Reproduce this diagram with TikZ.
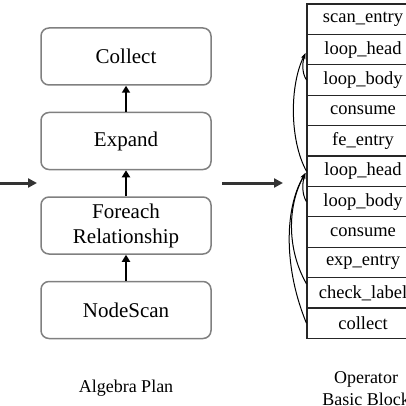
\documentclass[tikz,border=0pt]{standalone}
\usepackage{fontspec}
\setmainfont{Liberation Serif}
\usetikzlibrary{arrows.meta,calc}
\tikzset{
  planbox/.style={draw=black!50, line width=1.5pt, rounded corners=8pt, minimum width=170pt, minimum height=57pt, align=center, inner sep=0pt, font=\fontsize{21}{25}\selectfont},
  uparrow/.style={line width=2.5pt, -{Triangle[length=7pt,width=8pt]}},
  bigarrow/.style={draw=black!80, line width=3pt, -{Triangle[length=9pt,width=9pt]}},
  cell/.style={draw=black!85, line width=1.1pt, minimum width=112pt, minimum height=30.4pt, inner sep=0pt, font=\fontsize{18.5}{20}\selectfont},
  backedge/.style={line width=1pt, -{Stealth[length=6pt,width=4pt]}},
  caption/.style={font=\fontsize{18}{22}\selectfont, align=center}
}
\begin{document}
\begin{tikzpicture}[x=1pt,y=-1pt]
\path[use as bounding box] (0,0) rectangle (406,406);
\begin{scope}
\clip (0,0) rectangle (406,406);
% Algebra plan
\node[planbox] (collect) at (126,56.5) {Collect};
\node[planbox] (expand) at (126,141) {Expand};
\node[planbox] (foreach) at (126,225.5) {Foreach\\Relationship};
\node[planbox] (nodescan) at (126,310) {NodeScan};
\draw[uparrow] (nodescan.north) -- (foreach.south);
\draw[uparrow] (foreach.north) -- (expand.south);
\draw[uparrow] (expand.north) -- (collect.south);
\node[caption] (algcap) at (126,388) {Algebra Plan};
% arrows
\coordinate (lin) at (-2,183);
\coordinate (lout) at (37,183);
\draw[bigarrow] (lin) -- (lout);
\coordinate (min) at (222,183);
\coordinate (mout) at (283,183);
\draw[bigarrow] (min) -- (mout);
% basic blocks
\foreach \i/\t in {1/scan\_entry,2/loop\_head,3/loop\_body,4/consume,5/fe\_entry,6/loop\_head,7/loop\_body,8/consume,9/exp\_entry,10/check\_label,11/collect}{
  \node[cell] (c\i) at (363,{4+30.4*(\i-0.5)}) {\t};
}
\node[caption] (opcap) at (366,389) {Operator\\Basic Block};
% back edges
\coordinate (t1) at ($(c2.west)+(-1,3.5)$);
\coordinate (t2) at ($(c6.west)+(-1,1.8)$);
\draw[backedge] (c3.west) .. controls +(-5,-8) and +(-3,9) .. (t1);
\draw[backedge] (c6.west) .. controls +(-17,-31) and +(-16,32) .. (t1);
\draw[backedge] (c7.west) .. controls +(-5,-8) and +(-3,9) .. (t2);
\draw[backedge] ($(c10.west)+(0,-9)$) .. controls +(-20,-35) and +(-18,32) .. (t2);
\draw[backedge] (c11.west) .. controls +(-22,-53) and +(-22,37) .. (t2);
\end{scope}
\end{tikzpicture}
\end{document}
